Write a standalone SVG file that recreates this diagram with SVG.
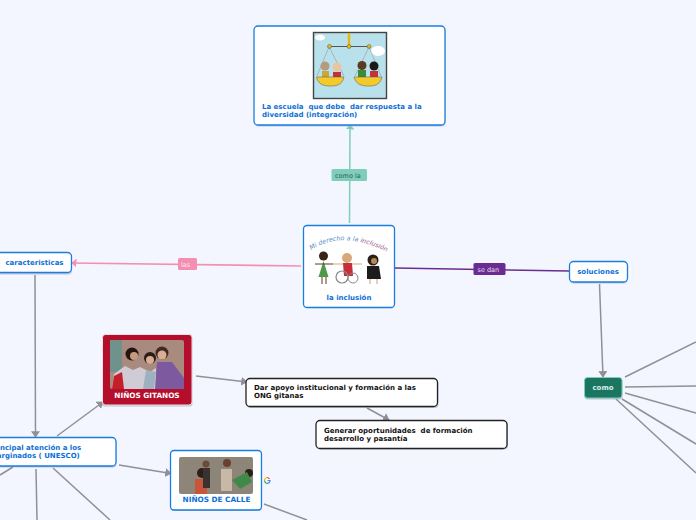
<svg xmlns="http://www.w3.org/2000/svg" width="696" height="520" viewBox="0 0 696 520">
<style>
text{font-family:"DejaVu Sans",Verdana,sans-serif;font-size:7px;font-weight:700;white-space:pre}
.b{fill:#fff;stroke:#1a7de0;stroke-width:1.300}
.k{fill:#fff;stroke:#222;stroke-width:1.300}
.bt{fill:#0e70d6}.kt{fill:#111}
.c{fill:none;stroke:#8f9098;stroke-width:1.500}
.lab{font-weight:400;font-size:6.500px}
.up{font-size:7.300px}
.sh{fill:#9aa6bd;opacity:.6}
</style>
<defs>
<marker id="ag" viewBox="0 0 10 10" refX="9" refY="5" markerWidth="6.500" markerHeight="9" markerUnits="userSpaceOnUse" orient="auto" preserveAspectRatio="none"><path d="M0 0L10 5L0 10Z" fill="#8f9098"/></marker>
<marker id="at" viewBox="0 0 10 10" refX="9" refY="5" markerWidth="5" markerHeight="9" markerUnits="userSpaceOnUse" orient="auto" preserveAspectRatio="none"><path d="M0 0L10 5L0 10Z" fill="#7fcdbb"/></marker>
<marker id="ap" viewBox="0 0 10 10" refX="9" refY="5" markerWidth="5" markerHeight="9" markerUnits="userSpaceOnUse" orient="auto" preserveAspectRatio="none"><path d="M0 0L10 5L0 10Z" fill="#f48fb1"/></marker>
<path id="arc" d="M311 250Q345 228 395 256"/>
</defs>
<rect width="696" height="520" fill="#f3f6fe"/>
<g id="connectors">
<path d="M349.500 223L350 125" fill="none" stroke="#7fcdbb" stroke-width="1.500" marker-end="url(#at)"/>
<path d="M301 266L72 263" fill="none" stroke="#f48fb1" stroke-width="1.600" marker-end="url(#ap)"/>
<path d="M395 268L569 271" fill="none" stroke="#6a2c91" stroke-width="1.600"/>
<path class="c" d="M599.500 284L603 377" marker-end="url(#ag)"/>
<path class="c" d="M625 377L696 342"/>
<path class="c" d="M625 387L696 386"/>
<path class="c" d="M625 393L696 413"/>
<path class="c" d="M622 399L696 444"/>
<path class="c" d="M616 399L696 473"/>
<path class="c" d="M35 275L35.500 437" marker-end="url(#ag)"/>
<path class="c" d="M57 436L103 402" marker-end="url(#ag)"/>
<path class="c" d="M119 465L171 473.500" marker-end="url(#ag)"/>
<path class="c" d="M196 376L247 382" marker-end="url(#ag)"/>
<path class="c" d="M367 408L389 420" marker-end="url(#ag)"/>
<path class="c" d="M13 467L0 475"/>
<path class="c" d="M36 469L37 520"/>
<path class="c" d="M53 468L110 520"/>
<path class="c" d="M264 504L307 520"/>
</g>
<g id="label-como-la"><rect x="331.500" y="169" width="35.500" height="12" rx="1.500" fill="#7fcdbb"/><text class="lab" x="335" y="177.500" fill="#2c5f57">como la</text></g>
<g id="label-las"><rect x="178" y="258" width="19" height="12" rx="1.500" fill="#f48fb1"/><text class="lab" x="181" y="266.500" fill="#fde9f0">las</text></g>
<g id="label-se-dan"><rect x="473.500" y="263" width="32" height="12" rx="1.500" fill="#6a2c91"/><text class="lab" x="477.500" y="271.500" fill="#e8dcf0">se dan</text></g>

<g id="node-escuela">
<rect class="sh" x="254.500" y="27.500" width="191" height="99" rx="4"/>
<rect class="b" x="254" y="26" width="191" height="99" rx="4"/>
<rect x="313.500" y="32.500" width="73" height="66" fill="#b9e1ec" stroke="#444" stroke-width="1.400"/>
<ellipse cx="320" cy="37.500" rx="5" ry="3" fill="#fff"/>
<ellipse cx="378" cy="51" rx="7" ry="5" fill="#fff"/>
<path d="M349 33V46" stroke="#e8b90c" stroke-width="2.500"/>
<path d="M329 46.500H369" stroke="#555" stroke-width="1"/>
<circle cx="329.500" cy="46.500" r="2" fill="#e8b90c" stroke="#555" stroke-width=".5"/><circle cx="349" cy="46.500" r="2" fill="#e8b90c" stroke="#555" stroke-width=".5"/><circle cx="369" cy="46.500" r="2" fill="#e8b90c" stroke="#555" stroke-width=".5"/>
<path d="M329 47L317 76M329 47L344 76M369 47L355 76M369 47L381 76" stroke="#889" stroke-width=".5" fill="none"/>
<circle cx="325" cy="66" r="4.500" fill="#b49a80"/><circle cx="337" cy="67" r="4.500" fill="#ebc4a0"/>
<circle cx="362" cy="65.500" r="4.500" fill="#5b3a22"/><circle cx="374" cy="66" r="4.500" fill="#1a1a1a"/>
<rect x="322" y="71" width="7" height="7" fill="#c9a83a"/><rect x="333" y="72" width="8" height="6" fill="#c6303a"/>
<rect x="358" y="70" width="8" height="8" fill="#3d8a3d"/><rect x="370" y="71" width="8" height="7" fill="#c6303a"/>
<path d="M316.500 77H344C342 86 335 86 330 86C323 86 318 84 316.500 77Z" fill="#f4c92a" stroke="#555" stroke-width=".5"/>
<path d="M354 77H382C380 86 373 86 368 86C361 86 356 84 354 77Z" fill="#f4c92a" stroke="#555" stroke-width=".5"/>
<text class="bt" x="262" y="108.500">La escuela  que debe  dar respuesta a la</text>
<text class="bt" x="262" y="116.500">diversidad (integración)</text>
</g>

<g id="node-inclusion">
<rect class="b" x="303.500" y="225.500" width="91" height="82" rx="3.500"/>
<text style="font-size:6.400px;font-weight:400;font-style:italic" fill="#5b8fbf"><textPath href="#arc">Mi derecho a la <tspan fill="#a0588f">inclusión</tspan></textPath></text>
<circle cx="323.500" cy="256" r="4.500" fill="#3a2418"/><path d="M323.500 261L318.500 277H328.500Z" fill="#4f9a4a"/><path d="M315 264L333 264" stroke="#5a3a22" stroke-width="1"/><path d="M322 277V284M326 277V284" stroke="#5a3a22" stroke-width="1"/>
<circle cx="347" cy="258" r="5" fill="#d8a878"/><path d="M343 263H352L353 276H344Z" fill="#c62f3a"/><path d="M333 264H343M352 264H362" stroke="#d8a878" stroke-width="1"/><circle cx="342" cy="277" r="6" fill="none" stroke="#888" stroke-width="1.200"/><circle cx="353" cy="278" r="5" fill="none" stroke="#888" stroke-width="1"/>
<circle cx="373" cy="260" r="5.500" fill="#2a2018"/><circle cx="374" cy="261" r="3" fill="#b98a50"/><path d="M367 266H379L381 279H367Z" fill="#1c1c1c"/><path d="M370 279V284M377 279V284" stroke="#c9a070" stroke-width="1"/>
<text class="bt" x="349" y="300" text-anchor="middle">la inclusión</text>
</g>

<g id="node-soluciones">
<rect class="sh" x="569.500" y="262.500" width="58" height="21" rx="4"/>
<rect class="b" x="569.500" y="261.500" width="58" height="20.500" rx="4"/>
<text class="bt" x="598" y="274" text-anchor="middle">soluciones</text>
</g>

<g id="node-como">
<rect class="sh" x="584.500" y="378.500" width="38" height="21" rx="3"/>
<rect x="584.500" y="377.500" width="37.500" height="20.500" rx="3" fill="#1b7560" stroke="#7fcdbb" stroke-width="1"/>
<text x="603" y="390" text-anchor="middle" fill="#d5efe8">como</text>
</g>

<g id="node-caracteristicas">
<rect class="sh" x="-6" y="253.500" width="78" height="21" rx="4"/>
<rect class="b" x="-6" y="252.500" width="77.500" height="20" rx="4"/>
<text class="bt" x="34.500" y="265" text-anchor="middle">caracteristicas</text>
</g>

<g id="node-gitanos">
<rect class="sh" x="102" y="335.500" width="90.500" height="71" rx="3"/>
<rect x="102.500" y="334.500" width="89.500" height="70.500" rx="3" fill="#b50d2c" stroke="#f0dfe3" stroke-width="1"/>
<rect x="110" y="340" width="74" height="49" rx="2" fill="#a98a7e"/>
<rect x="110" y="340" width="12" height="32" fill="#6f938c"/>
<path d="M112 389L114 374L125 366L133 370L140 367L150 372L156 368V389Z" fill="#d0ccd6"/>
<path d="M112 389L114 376L122 372L124 389Z" fill="#c5202a"/>
<path d="M155 389L157 362H172L184 378V389Z" fill="#7d5aa0"/>
<path d="M143 389L146 370L156 372L154 389Z" fill="#9fb0c0"/>
<circle cx="132" cy="354" r="6.500" fill="#241510"/><circle cx="150" cy="358" r="6" fill="#2e1c16"/><circle cx="162" cy="353" r="6.500" fill="#3f2a20"/>
<circle cx="134" cy="356" r="4" fill="#c79a7d"/><circle cx="150" cy="360" r="4" fill="#d9ae94"/><circle cx="162" cy="355" r="4.500" fill="#d9ae94"/>
<text class="up" x="147" y="398" text-anchor="middle" fill="#fff">NIÑOS GITANOS</text>
</g>

<g id="node-principal">
<rect class="sh" x="-20" y="438.500" width="136.500" height="29" rx="4"/>
<rect class="b" x="-20" y="437.500" width="136" height="28.500" rx="4"/>
<text class="bt" x="-11" y="450">Principal atención a los</text>
<text class="bt" x="-10.500" y="458">marginados ( UNESCO)</text>
</g>

<g id="node-calle">
<rect class="sh" x="170.500" y="451.500" width="91.500" height="59.500" rx="3.500"/>
<rect class="b" x="170.500" y="450.500" width="91" height="59.500" rx="3.500"/>
<rect x="179" y="457" width="74" height="37" rx="2" fill="#8d8578"/>
<circle cx="202" cy="473" r="5" fill="#2a2018"/><rect x="195" y="479" width="12" height="15" fill="#c8553a"/>
<circle cx="227" cy="463" r="4" fill="#6a4030"/><rect x="221" y="469" width="11" height="22" fill="#c8b8a8"/>
<circle cx="249" cy="473" r="4" fill="#2a2018"/><path d="M232 480L247 472L252 482L240 489Z" fill="#3f8a4a"/>
<circle cx="206" cy="464" r="3.500" fill="#6a4a38"/><rect x="203" y="468" width="7" height="20" fill="#3a3230"/>
<text class="bt up" x="216.500" y="502" text-anchor="middle">NIÑOS DE CALLE</text>
</g>

<g id="icon-g"><path d="M267 477.500A3 3 0 0 1 269.500 479" fill="none" stroke="#ea4335" stroke-width="1.200"/><path d="M264.500 480.500A3 3 0 0 1 267 477.500" fill="none" stroke="#fbbc05" stroke-width="1.200"/><path d="M264.500 480.500A3 3 0 0 0 268 483.300" fill="none" stroke="#34a853" stroke-width="1.200"/><path d="M268 483.300A3 3 0 0 0 270 480.500H267.500" fill="none" stroke="#4285f4" stroke-width="1.200"/></g>

<g id="node-dar">
<rect class="sh" x="246.500" y="379.500" width="192" height="28.500" rx="4"/>
<rect class="k" x="246" y="378.500" width="191.500" height="28" rx="4"/>
<text class="kt" x="254" y="390">Dar apoyo institucional y formación a las</text>
<text class="kt" x="254" y="398">ONG gitanas</text>
</g>

<g id="node-generar">
<rect class="sh" x="316.500" y="421" width="191.500" height="28.500" rx="4"/>
<rect class="k" x="316" y="420.500" width="191" height="28" rx="4"/>
<text class="kt" x="324" y="433">Generar oportunidades  de formación</text>
<text class="kt" x="324" y="441">desarrollo y pasantía</text>
</g>
</svg>
